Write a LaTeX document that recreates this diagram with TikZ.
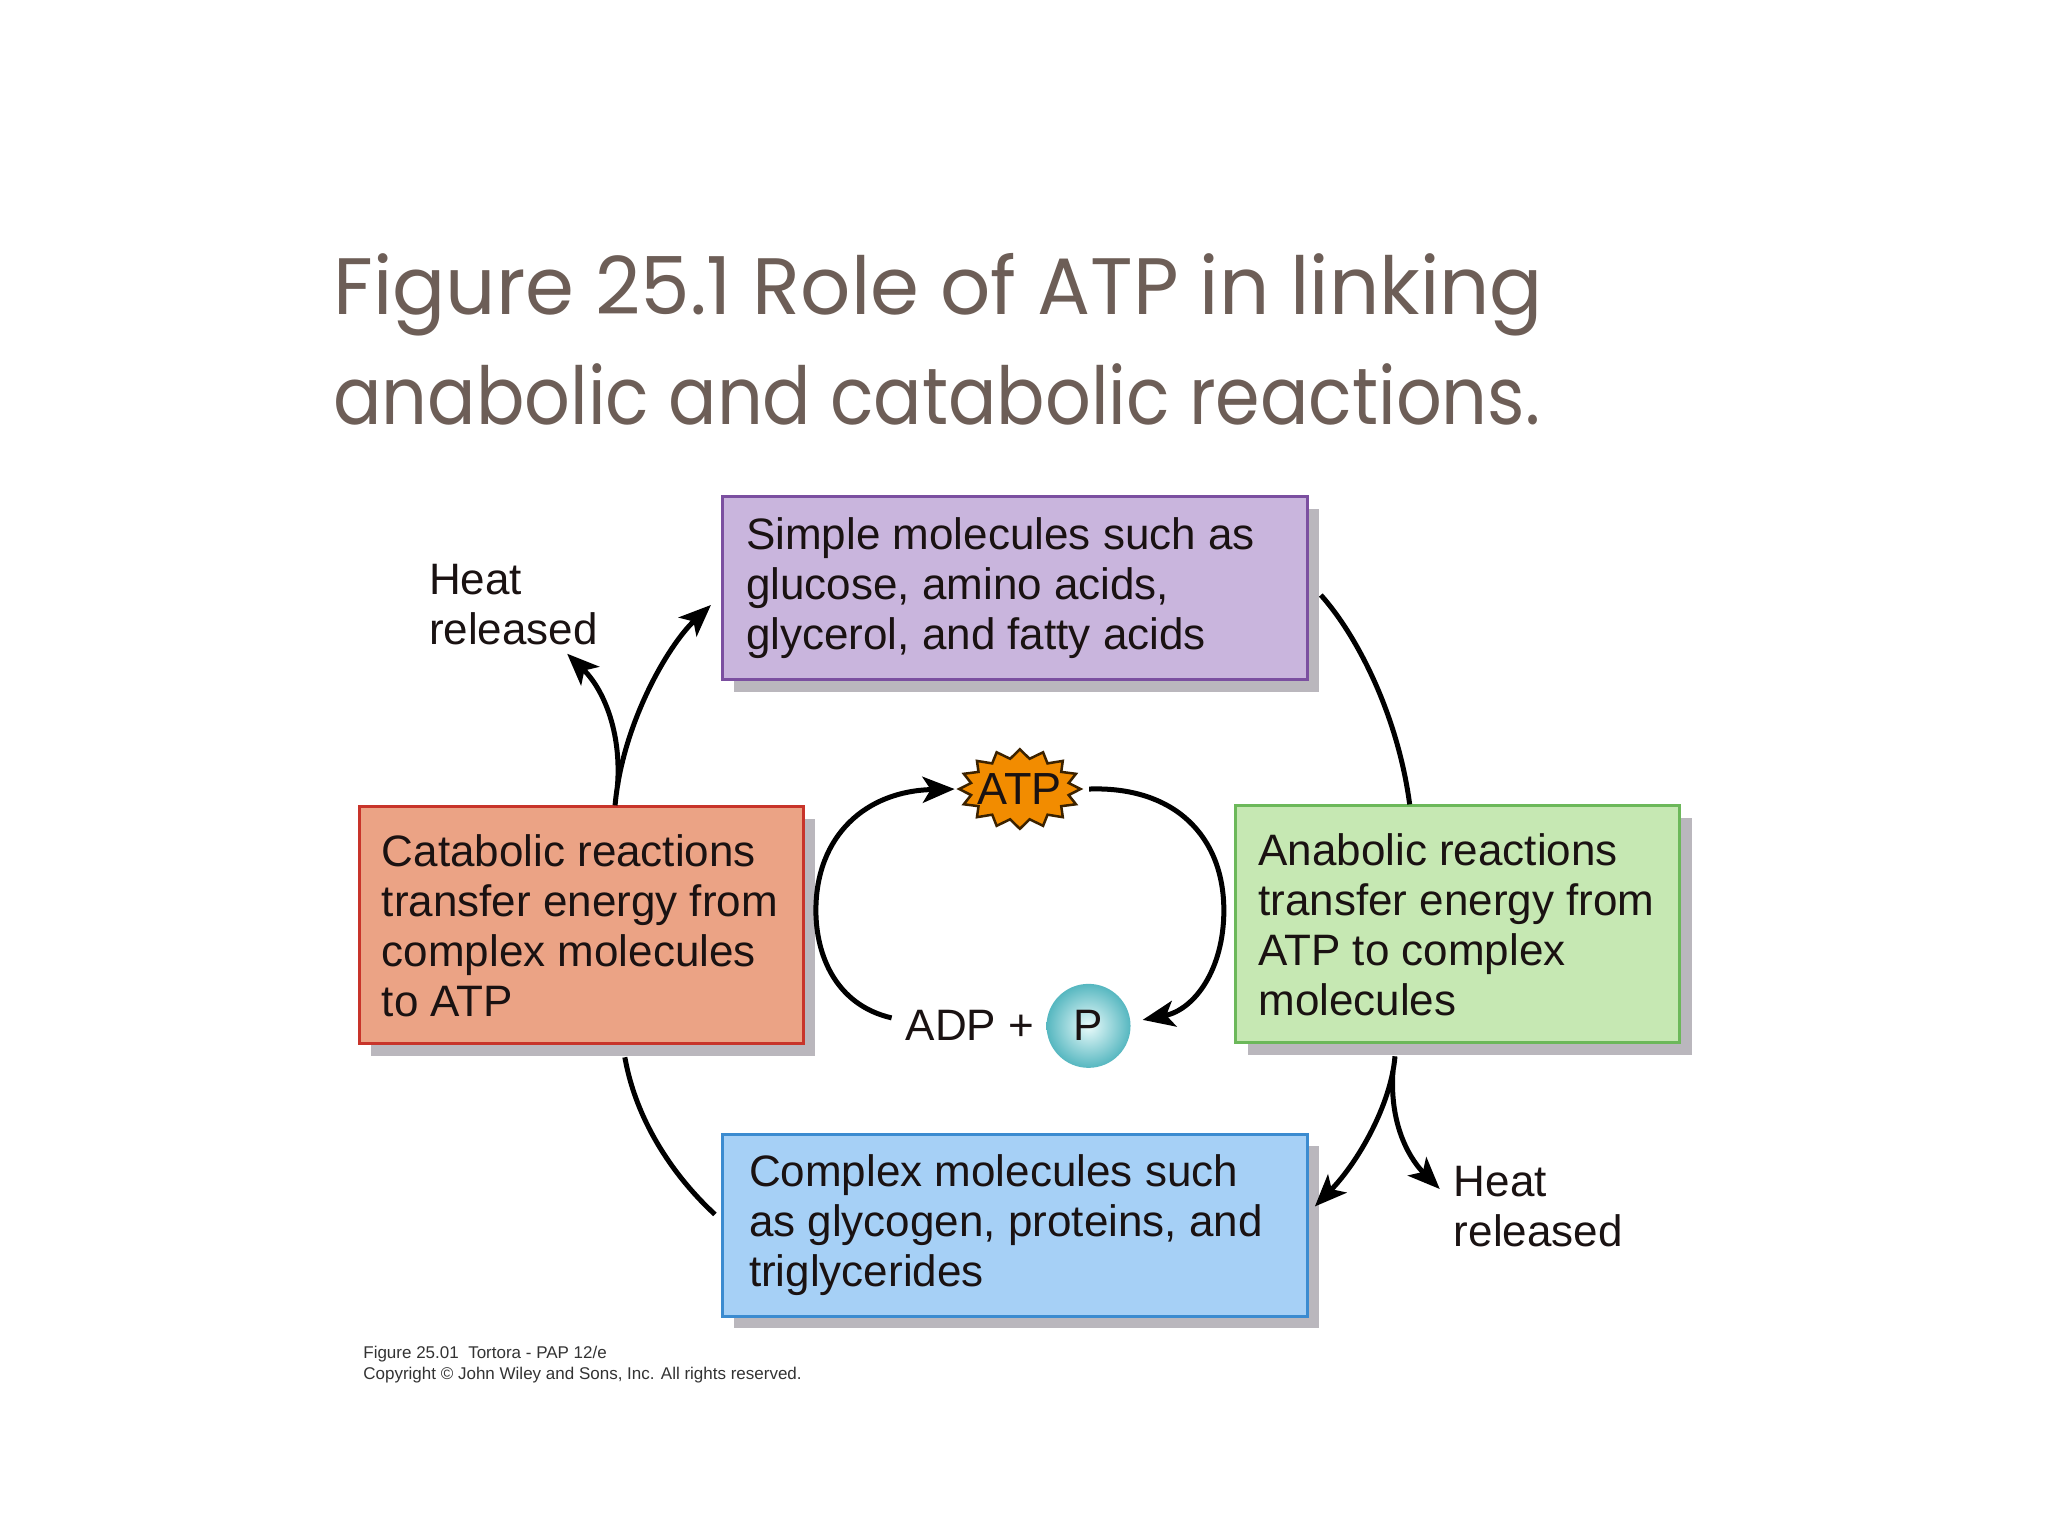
\documentclass[tikz,border=0pt]{standalone}
\usepackage{fontspec}
\setmainfont{Liberation Sans}
\newfontfamily\titlefont{Poppins}
\usetikzlibrary{shapes.geometric,shadows,arrows.meta,calc}
\definecolor{titlecol}{HTML}{6D5E57}
\definecolor{txtcol}{HTML}{1A1212}
\definecolor{purfill}{HTML}{C9B5DD}
\definecolor{purline}{HTML}{7B4FA0}
\definecolor{catfill}{HTML}{EBA385}
\definecolor{catline}{HTML}{C8342A}
\definecolor{anafill}{HTML}{C6E8B3}
\definecolor{analine}{HTML}{6CB85A}
\definecolor{blufill}{HTML}{A6D0F6}
\definecolor{bluline}{HTML}{3B8BD0}
\definecolor{shadowcol}{HTML}{BAB7BD}
\definecolor{atpfill}{HTML}{F28C00}
\definecolor{atpline}{HTML}{3B2200}
\definecolor{pin}{HTML}{EAFBFB}
\definecolor{pout}{HTML}{56B7C0}
\begin{document}
\begin{tikzpicture}[x=0.995pt,y=-0.995pt,
  box/.style={rectangle, line width=3pt, inner sep=0pt,
    drop shadow={shadow xshift=12pt, shadow yshift=-12pt, fill=shadowcol, opacity=1}},
  txt/.style={anchor=west, align=left, inner sep=0pt, text=txtcol,
    font=\fontsize{44}{50}\selectfont},
  conn/.style={line width=5pt, draw=black},
  arr/.style={conn, -{Stealth[length=32pt,width=26pt,inset=8pt]}},
  foot/.style={anchor=base west, inner sep=0pt, text=black!80,
    font=\fontsize{17}{21}\selectfont},
  ttl/.style={anchor=base west, inner sep=0pt, text=titlecol,
    font=\titlefont\fontsize{80}{111}\selectfont}
]
\useasboundingbox (0,0) rectangle (2058.3,1543.7);
\fill[white] (0,0) rectangle (2058.3,1543.7);

% title
\node[ttl] (title1) at (335,316) {\scalebox{0.984}[1]{Figure 25.1 Role of ATP in linking}};
\node[ttl] (title2) at (335,427) {\scalebox{0.896}[1]{anabolic and catabolic reactions.}};

% boxes
\node[box, fill=purfill, draw=purline, minimum width=585pt, minimum height=183pt] (pur) at (1020,591) {};
\node[box, fill=catfill, draw=catline, minimum width=444pt, minimum height=237pt] (cat) at (584,930) {};
\node[box, fill=anafill, draw=analine, minimum width=444pt, minimum height=237pt] (ana) at (1465,929) {};
\node[box, fill=blufill, draw=bluline, minimum width=585pt, minimum height=182pt] (blu) at (1020,1231.5) {};

\node[txt] (purtxt) at ([xshift=25pt]pur.west) {Simple molecules such as\\glucose, amino acids,\\glycerol, and fatty acids};
\node[txt] (cattxt) at ([xshift=24pt]cat.west) {Catabolic reactions\\transfer energy from\\complex molecules\\to ATP};
\node[txt] (anatxt) at ([xshift=24pt]ana.west) {Anabolic reactions\\transfer energy from\\ATP to complex\\molecules};
\node[txt] (blutxt) at ([xshift=28pt]blu.west) {Complex molecules such\\as glycogen, proteins, and\\triglycerides};

\node[txt] (heat1) at (431,608) {Heat\\released};
\node[txt] (heat2) at (1461,1213) {Heat\\released};

% ATP starburst
\node[ellipse, minimum width=122pt, minimum height=80pt, inner sep=0pt] (atp) at (1025,793) {};
\begin{scope}[shift={(atp.center)}]
\filldraw[fill=atpfill, draw=atpline, line width=2.5pt, line join=miter]
  (0:61 and 40) \foreach \i in {0,...,15} { -- ({\i*22.5+11.25}:50 and 31) -- ({\i*22.5+22.5}:61 and 40) } -- cycle;
\end{scope}
\node[text=txtcol, font=\fontsize{45}{50}\selectfont, inner sep=0pt] (atptxt) at (atp.center) {ATP};

% P and ADP
\node[circle, minimum size=84pt, inner sep=0pt, inner color=pin, outer color=pout,
  text=txtcol, font=\fontsize{44}{50}\selectfont] (p) at (1094,1031) {P};
\node[anchor=east, inner sep=0pt, text=txtcol, font=\fontsize{44}{50}\selectfont] (adp) at ([xshift=-12pt]p.west) {ADP +};

\coordinate (h1tip) at (570,657);
\coordinate (h2tip) at (1447,1195);

% inner cycle
\draw[arr] ([shift={(-14,-8)}]adp.west) .. controls (840,1010) and (820,960) .. (820,915)
  .. controls (820,840) and (870,795) .. ([xshift=-4pt]atp.west);
\draw[arr] ([xshift=8pt]atp.east) .. controls (1180,790) and (1230,840) .. (1230,915)
  .. controls (1230,975) and (1200,1015) .. ([shift={(12,-6)}]p.east);

% outer cycle
\draw[arr] ([xshift=34pt]cat.north) .. controls (625,730) and (670,650) .. ([shift={(-10,17)}]pur.west)
  node[coordinate, pos=0.08] (split1) {};
\draw[arr] (split1) .. controls (625,735) and (606,692) .. (h1tip);

\draw[conn] ([shift={(12,7)}]pur.east) .. controls (1365,640) and (1405,720) .. ([xshift=-48pt]ana.north);

\draw[arr] ([shift={(-63,12)}]ana.south) .. controls (1398,1110) and (1365,1168) .. ([shift={(6,-19)}]blu.east)
  node[coordinate, pos=0.1] (split2) {};
\draw[arr] (split2) .. controls (1396,1135) and (1420,1168) .. (h2tip);

\draw[conn] ([shift={(44,12)}]cat.south) .. controls (640,1130) and (680,1185) .. ([shift={(-6,-11)}]blu.west);

% footer
\node[foot] (foot1) at (365,1365) {Figure 25.01\ \ Tortora - PAP 12/e};
\node[foot] (foot2) at (365,1386) {Copyright © John Wiley and Sons, Inc. All rights reserved.};
\end{tikzpicture}
\end{document}
